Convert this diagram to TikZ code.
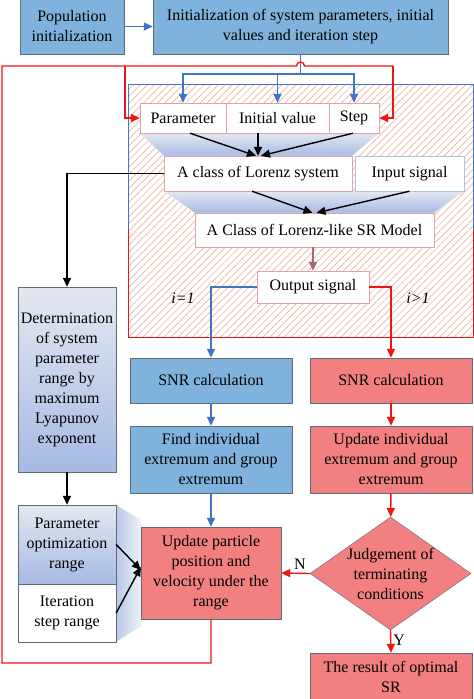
\documentclass[tikz,border=0pt]{standalone}
\usepackage{fontspec}
\setmainfont{Liberation Serif}
\usetikzlibrary{positioning,shapes.geometric,arrows.meta,patterns.meta}

\definecolor{boxblue}{HTML}{7FB3DD}
\definecolor{boxred}{HTML}{F28080}
\definecolor{lineblue}{HTML}{4472C4}
\definecolor{linered}{HTML}{F01414}
\definecolor{edgegray}{HTML}{5E6B78}
\definecolor{edgepink}{HTML}{E0A2AC}
\definecolor{edgelight}{HTML}{A9C3E0}
\definecolor{hatch}{HTML}{E8A48A}
\definecolor{shadelight}{HTML}{E4E8F1}
\definecolor{shadedark}{HTML}{A6BAE3}
\definecolor{mauve}{HTML}{A86482}

\begin{document}
\begin{tikzpicture}[
    x=1pt, y=-1pt,
    >={Triangle[length=9pt,width=8pt]},
    font=\fontsize{16}{20}\selectfont,
    bluebox/.style={
        rectangle,
        draw=edgegray,
        fill=boxblue,
        align=center,
        inner sep=1pt
    },
    redbox/.style={
        rectangle,
        draw=edgegray,
        fill=boxred,
        align=center,
        inner sep=1pt
    },
    whitebox/.style={
        rectangle,
        draw=edgepink,
        fill=white,
        align=center,
        inner sep=1pt
    },
    shadebox/.style={
        rectangle,
        draw=edgegray,
        top color=shadelight,
        bottom color=shadedark,
        align=center,
        inner sep=1pt
    },
    decision/.style={
        diamond,
        draw=edgegray,
        fill=boxred,
        inner sep=0pt
    },
    funnel/.style={draw=white!85!gray, top color=shadelight, bottom color=shadedark},
    bluearrow/.style={->, draw=lineblue, line width=1.4pt},
    redarrow/.style={->, draw=linered, line width=1.4pt},
    blackarrow/.style={->, draw=black, line width=1.4pt}
]

\fill[white] (0,0) rectangle (474,699);
\useasboundingbox (0,0) rectangle (474,699);

% hatched area
\fill[pattern={Lines[angle=45,distance=5pt,line width=0.5pt]}, pattern color=hatch] (128,84) rectangle (473,337);
\draw[linered, line width=1pt] (128,84) rectangle (473,337);
\draw[lineblue, line width=1pt] (128,230) -- (128,84) -- (473,84) -- (473,230);

% funnels
\path[funnel] (140,133) -- (379,133) -- (352,156) -- (164,156) -- cycle;
\path[funnel] (164,191) -- (464,191) -- (434,213) -- (195,213) -- cycle;
\path[draw=white!85!gray, left color=shadedark!80!white, right color=shadelight!60!white]
    (116,505) -- (116,642) -- (141,626) -- (141,520) -- cycle;

% nodes
\node[bluebox, minimum width=104, minimum height=55] (pop) at (72,26.5) {Population\\initialization};
\node[bluebox, minimum width=295, minimum height=55] (init) at (300.5,26.5) {Initialization of system parameters, initial\\values and iteration step};

\node[whitebox, minimum width=86, minimum height=30] (param) at (183,118) {Parameter};
\node[whitebox, minimum width=103, minimum height=30] (initval) at (277.5,118) {Initial value};
\node[whitebox, minimum width=50, minimum height=30] (step) at (354,118) {Step};

\node[whitebox, minimum width=188, minimum height=35] (lorenz) at (258,173.5) {A class of Lorenz system};
\node[whitebox, draw=edgelight, minimum width=109, minimum height=35] (input) at (409.5,173.5) {Input signal};
\node[whitebox, minimum width=239, minimum height=34] (model) at (314.5,230) {A Class of Lorenz-like SR Model};
\node[whitebox, minimum width=112, minimum height=32] (output) at (313,287) {Output signal};

\node[shadebox, minimum width=98, minimum height=185] (determ) at (67,379.5) {Determination\\of system\\parameter\\range by\\maximum\\Lyapunov\\exponent};
\node[shadebox, minimum width=98, minimum height=79] (paropt) at (67,544.5) {Parameter\\optimization\\range};
\node[whitebox, draw=edgegray, minimum width=98, minimum height=58] (iterstep) at (67,613) {Iteration\\step range};

\node[bluebox, minimum width=162, minimum height=45] (snra) at (211,380.5) {SNR calculation};
\node[bluebox, minimum width=162, minimum height=67] (find) at (211,459.5) {Find individual\\extremum and group\\extremum};
\node[redbox, minimum width=140, minimum height=92] (update) at (211,573) {Update particle\\position and\\velocity under the\\range};

\node[redbox, minimum width=162, minimum height=45] (snrb) at (391,380.5) {SNR calculation};
\node[redbox, minimum width=162, minimum height=67] (updind) at (391,459.5) {Update individual\\extremum and group\\extremum};
\node[decision, minimum width=161, minimum height=113] (judge) at (390.5,573.5) {};
\node[align=center] (judgetxt) at (judge) {Judgement of\\terminating\\conditions};
\node[redbox, minimum width=162, minimum height=48] (result) at (391,677) {The result of optimal\\SR};

\node (ione) at (183,298) {\textit{i=1}};
\node (imore) at (418,298) {\textit{i>1}};

% free ends of the red loop
\coordinate (loopbl) at (2,663);
\coordinate (looptl) at (2,66);
\coordinate (looptr) at (393,66);
\coordinate (loopsplit) at (125,66);
\coordinate (fork) at (300.5,74);

% connectors
\draw[bluearrow] (pop) -- (init);
\draw[lineblue, line width=1.4pt] (init.south) -- (fork);
\draw[bluearrow] (fork) -| (param.north);
\draw[bluearrow] (fork) -| (initval.north);
\draw[bluearrow] (fork) -| (step.north);

\draw[linered, line width=1.4pt] (update.south) |- (loopbl) -- (looptl) -- (296.5,66)
    arc[start angle=180, end angle=360, radius=4] -- (looptr);
\draw[redarrow] (looptr) |- (step.east);
\draw[redarrow] (loopsplit) |- (param.west);

\draw[blackarrow] ([xshift=7]param.south) -- ([xshift=-2]lorenz.north);
\draw[blackarrow] (lorenz.north |- initval.south) -- (lorenz.north);
\draw[blackarrow] ([xshift=-1]step.south) -- ([xshift=3]lorenz.north);
\draw[blackarrow] ([xshift=-6]lorenz.south) -- ([xshift=-2]model.north);
\draw[blackarrow] (input.south) -- ([xshift=2]model.north);
\draw[->, draw=mauve, line width=1.4pt] ([xshift=-1.5]model.south) -- ([xshift=0]output.north);

\draw[blackarrow] (lorenz.west) -| (determ.north);
\draw[blackarrow] (determ) -- (paropt);
\draw[blackarrow] (paropt.east) -- ([yshift=3]update.west);
\draw[blackarrow] (iterstep.east) -- ([yshift=6]update.west);

\draw[bluearrow] (output.west) -| (snra.north);
\draw[redarrow] (output.east) -| (snrb.north);
\draw[bluearrow] (snra) -- (find);
\draw[bluearrow] (find) -- (update);
\draw[redarrow] (snrb) -- (updind);
\draw[redarrow] (updind) -- (judge);
\draw[redarrow] (judge.west) -- node[above, pos=0.35, inner sep=3pt] (nlabel) {N} (update.east);
\draw[redarrow] (judge.south) -- node[right, pos=0.45, inner sep=2pt] (ylabel) {Y} (result.north);

\end{tikzpicture}
\end{document}
